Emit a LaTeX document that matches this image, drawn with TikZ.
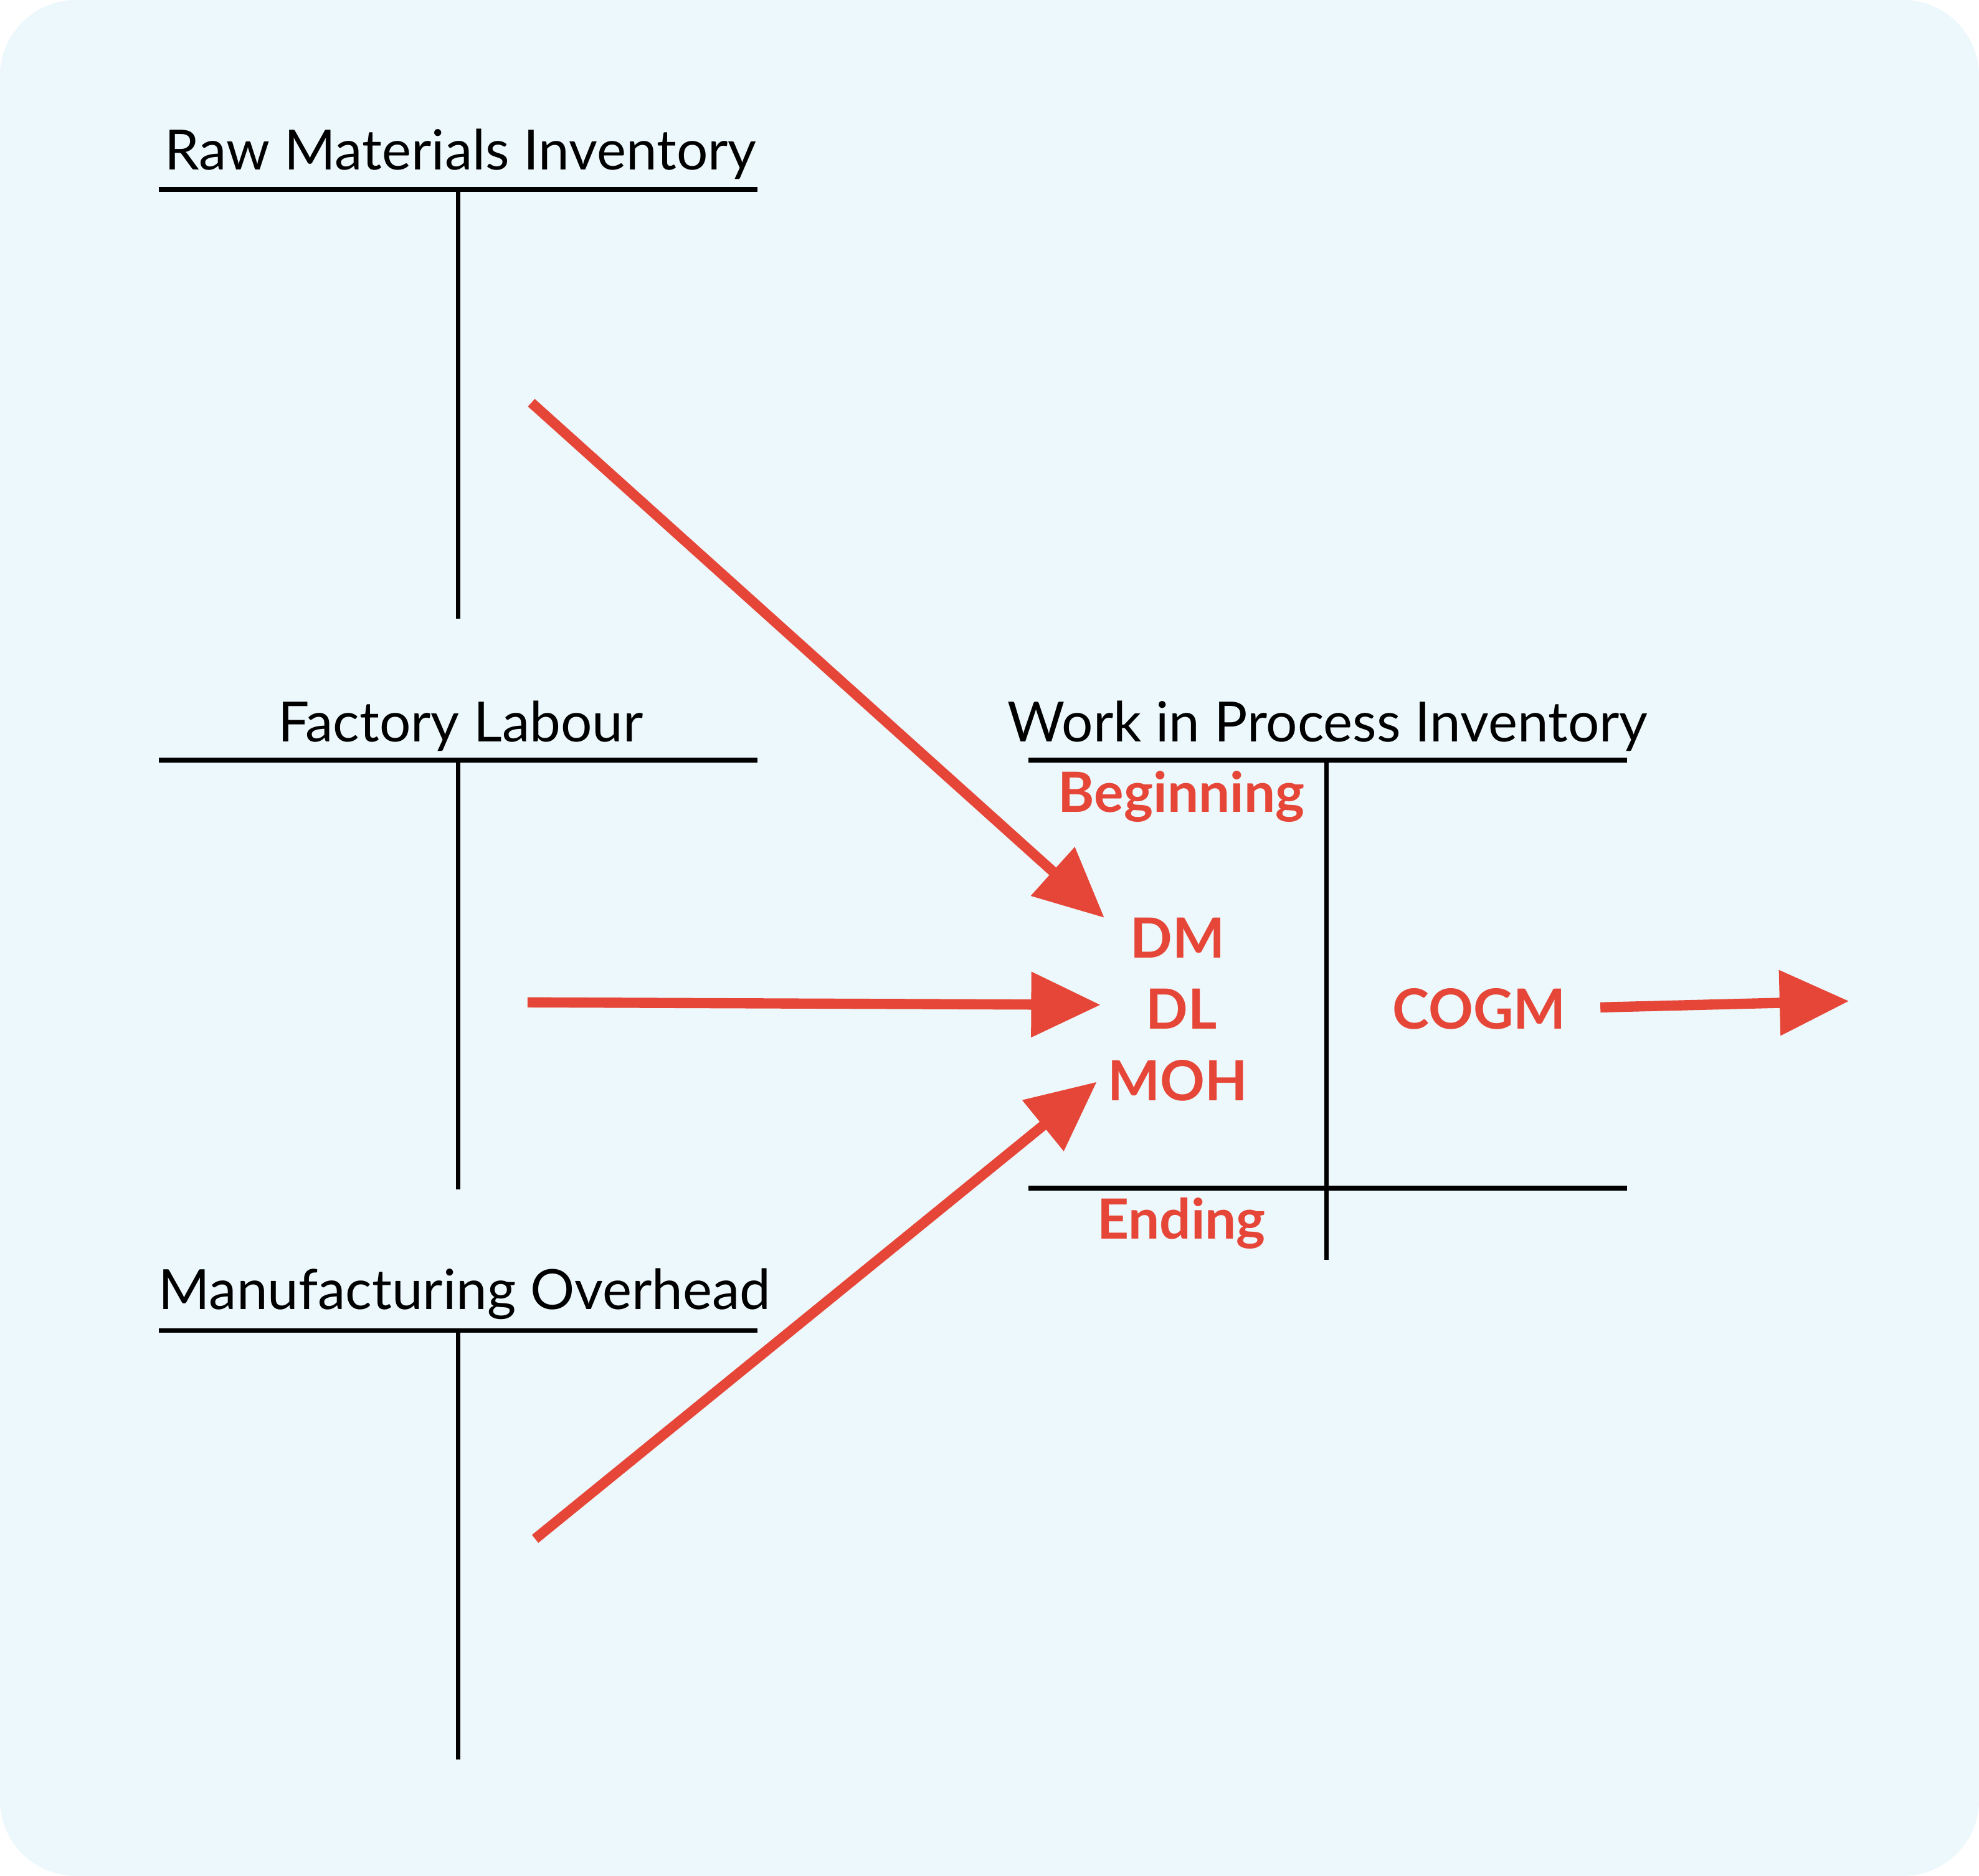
\documentclass[tikz,border=0pt]{standalone}
\usepackage{fontspec}
\setmainfont{Lato}
\usetikzlibrary{arrows.meta}
\definecolor{bg}{HTML}{EDF8FC}
\definecolor{rd}{HTML}{E64637}
\begin{document}
\begin{tikzpicture}[x=0.02cm,y=-0.02cm,
  ttl/.style={font=\fontsize{25}{28}\selectfont, text=black},
  lab/.style={font=\fontsize{25}{28}\selectfont\bfseries, text=rd},
  tl/.style={line width=2.2pt, black},
  arr/.style={line width=4.6pt, rd, -{Triangle[length=1.1cm,width=1cm]}}]
\useasboundingbox (0,0) rectangle (1568,1486);
\fill[bg, rounded corners=1.2cm] (0,0) rectangle (1568,1486);
% T accounts
\node[ttl] (rmi) at (365,122) {Raw Materials Inventory};
\draw[tl] (126,150) -- (600,150) (363,150) -- (363,490);
\node[ttl] (fl) at (365,575) {Factory Labour};
\draw[tl] (126,602) -- (600,602) (363,602) -- (363,942);
\node[ttl] (moh) at (368,1025) {Manufacturing Overhead};
\draw[tl] (126,1054) -- (600,1054) (363,1054) -- (363,1394);
\node[ttl] (wip) at (1052,575) {Work in Process Inventory};
\draw[tl] (815,602) -- (1289,602) (1051,602) -- (1051,998) (815,941) -- (1289,941);
% labels
\node[lab] (beg) at (936,631) {Beginning};
\node[lab] (dm) at (933,743) {DM};
\node[lab] (dl) at (936,799) {DL};
\node[lab] (mo) at (933,856) {MOH};
\node[lab] (cogm) at (1172,799) {COGM};
\node[lab] (end) at (936,969) {Ending};
% arrows
\coordinate (a1) at (421,319); \coordinate (b1) at (875,727);
\coordinate (a2) at (418,794); \coordinate (b2) at (872,796);
\coordinate (a3) at (424,1219); \coordinate (b3) at (869,857);
\coordinate (a4) at (1268,798); \coordinate (b4) at (1465,793);
\draw[arr] (a1) -- (b1);
\draw[arr] (a2) -- (b2);
\draw[arr] (a3) -- (b3);
\draw[arr] (a4) -- (b4);
\end{tikzpicture}
\end{document}
